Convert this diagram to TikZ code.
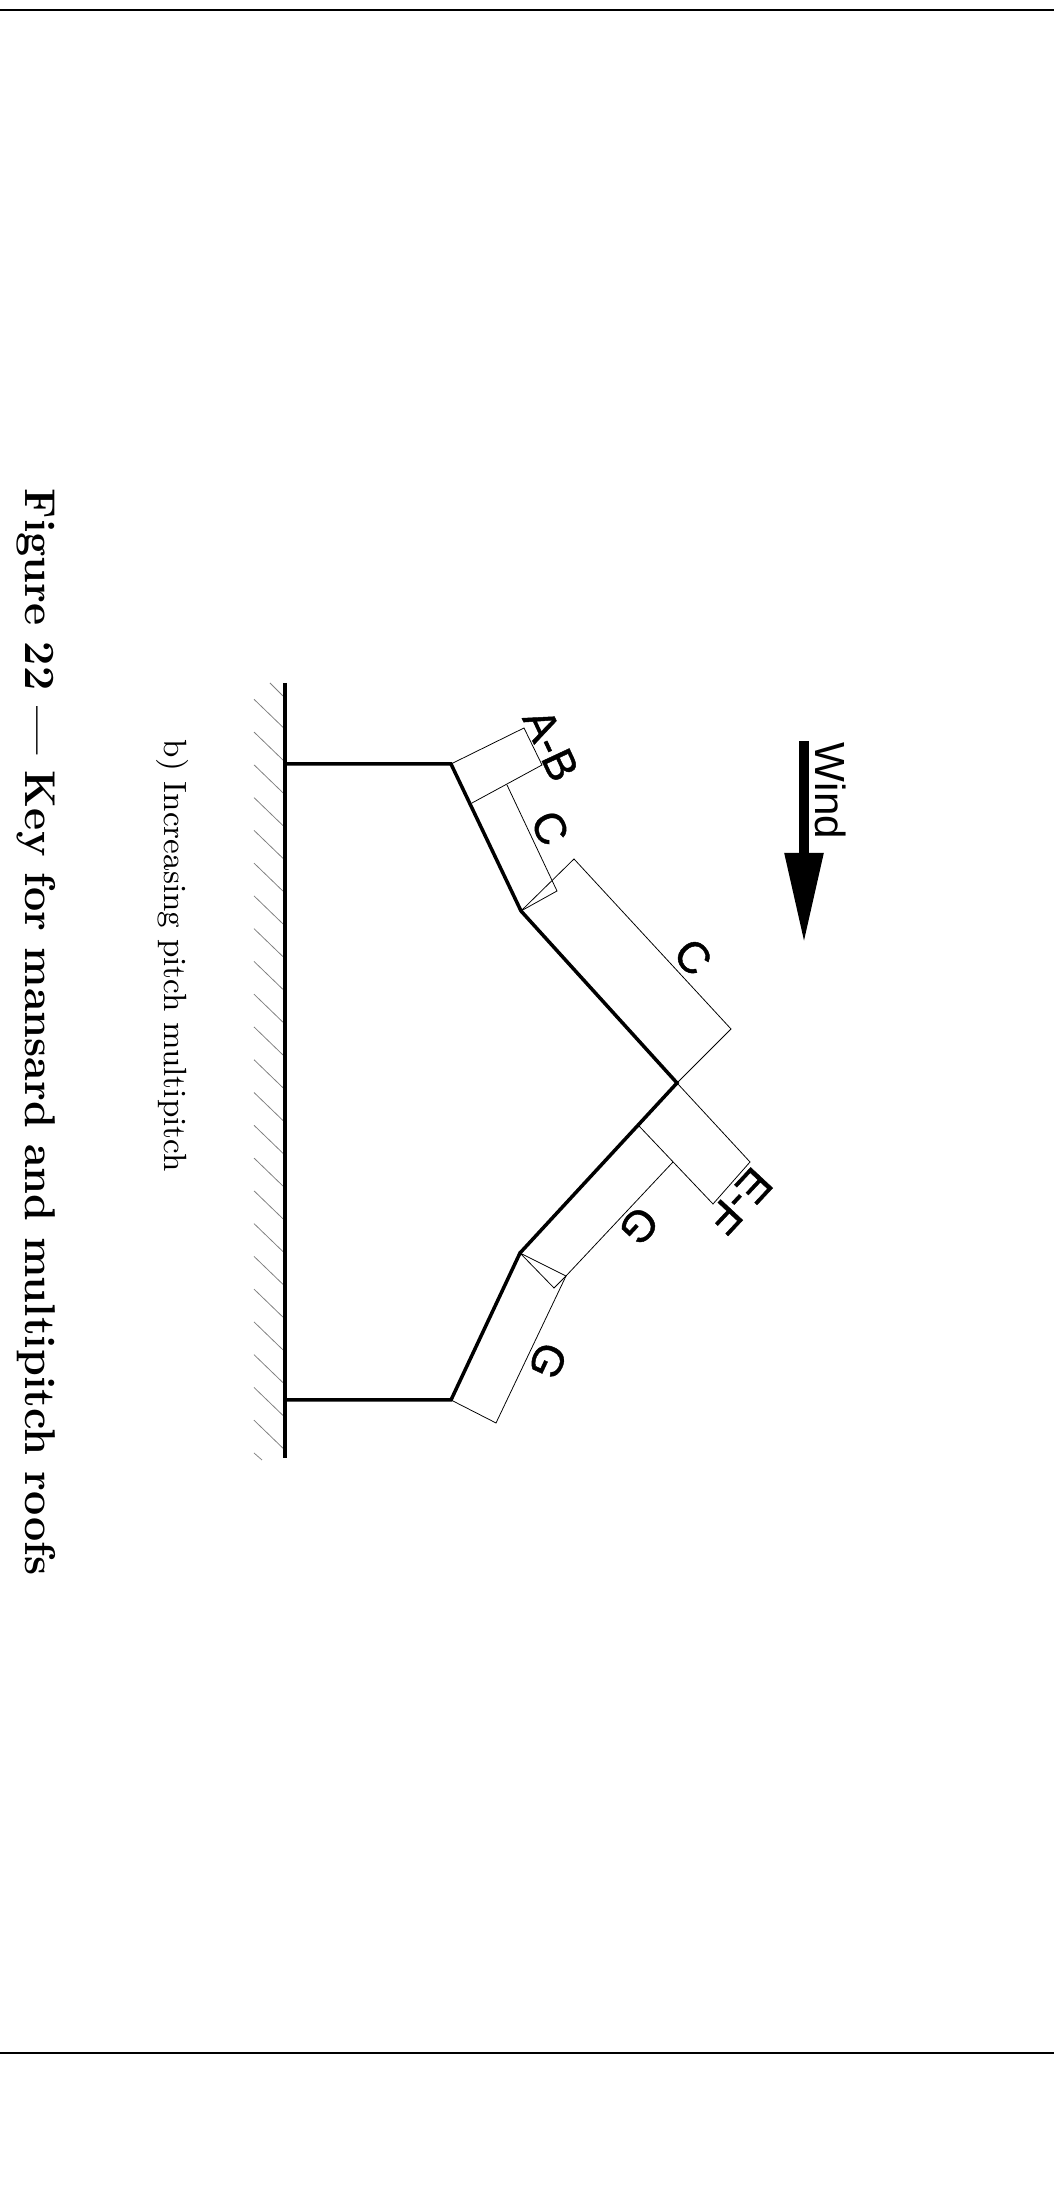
\documentclass[tikz,border=0pt]{standalone}
\usepackage{fontspec}
\newfontfamily\labelfont{Liberation Sans}
\newfontfamily\zonefont[FakeBold=1]{Liberation Sans}
\usetikzlibrary{arrows.meta}
\tikzset{
    heavy/.style={line width=1pt},
    zoneline/.style={line width=0.22pt},
    hatchline/.style={line width=0.22pt,black!50},
    rule/.style={line width=0.55pt},
    zonelabel/.style={inner sep=0pt,font=\zonefont\fontsize{12.5}{15}\selectfont},
    windlabel/.style={inner sep=0pt,font=\labelfont\fontsize{12}{14}\selectfont},
    windarrow/.style={line width=1mm,-{Triangle[length=9mm,width=3.66mm]}},
}
\begin{document}
\begin{tikzpicture}
    \useasboundingbox (0,0) rectangle (10.54,21.97);
    %% Page rules
    \draw[rule] (0,21.87) -- (10.54,21.87);
    \draw[rule] (0,1.44) -- (10.54,1.44);
    %% Roof points
    \coordinate (gndL) at (2.85,14.33);
    \coordinate (eaveL) at (4.51,14.33);
    \coordinate (kneeL) at (5.21,12.86);
    \coordinate (ridge) at (6.77,11.14);
    \coordinate (kneeR) at (5.20,9.44);
    \coordinate (eaveR) at (4.51,7.97);
    \coordinate (gndR) at (2.85,7.97);
    %% Ground
    \foreach \i in {0,...,22} {
        \draw[hatchline] (2.54,{14.977-0.3277*\i}) -- ++(0.29,-0.28);
    }
    \draw[hatchline] (2.70,15.14) -- (2.83,15.01);
    \draw[hatchline] (2.54,7.44) -- (2.62,7.37);
    \draw[heavy] (2.85,15.14) -- (2.85,7.39);
    %% Building
    \draw[heavy] (gndL) -- (eaveL) -- (kneeL) -- (ridge) -- (kneeR) -- (eaveR) -- (gndR);
    %% Zones, windward side
    \draw[zoneline] (eaveL) -- (5.24,14.69) -- (5.42,14.32) -- (4.72,13.94);
    \draw[zoneline] (5.07,14.12) -- (5.57,13.06) -- (kneeL);
    \draw[zoneline] (kneeL) -- (5.74,13.38) -- (7.31,11.68) -- (ridge);
    %% Zones, leeward side
    \draw[zoneline] (ridge) -- (7.50,10.35) -- (7.13,9.93) -- (6.39,10.71);
    \draw[zoneline] (6.73,10.35) -- (5.66,9.21) -- (kneeR) -- (5.54,9.09) -- (5.66,9.21);
    \draw[zoneline] (5.66,9.21) -- (4.96,7.74) -- (eaveR);
    %% Zone labels
    \node[zonelabel,rotate=-65] (labelAB) at (5.51,14.52) {A-B};
    \node[zonelabel,rotate=-65] (labelCa) at (5.50,13.69) {C};
    \node[zonelabel,rotate=-48] (labelCb) at (6.93,12.40) {C};
    \node[zonelabel,rotate=-133] (labelEF) at (7.40,9.96) {E-F};
    \node[zonelabel,rotate=-133] (labelGa) at (6.39,9.71) {G};
    \node[zonelabel,rotate=-115] (labelGb) at (5.48,8.36) {G};
    %% Wind
    \coordinate (windTail) at (8.04,14.56);
    \coordinate (windTip) at (8.04,12.54);
    \draw[windarrow] (windTail) -- (windTip);
    \node[windlabel,rotate=-90] (windLabel) at (8.31,14.06) {Wind};
    %% Captions
    \node[rotate=-90,anchor=base west,inner sep=0pt,font=\fontsize{9.15}{12}\selectfont] (subcaption) at (1.64,14.58) {b) Increasing pitch multipitch};
    \node[rotate=-90,anchor=base west,inner sep=0pt,font=\fontsize{12.25}{14}\selectfont\bfseries] (caption) at (0.25,17.09) {Figure 22 --- Key for mansard and multipitch roofs};
\end{tikzpicture}
\end{document}
